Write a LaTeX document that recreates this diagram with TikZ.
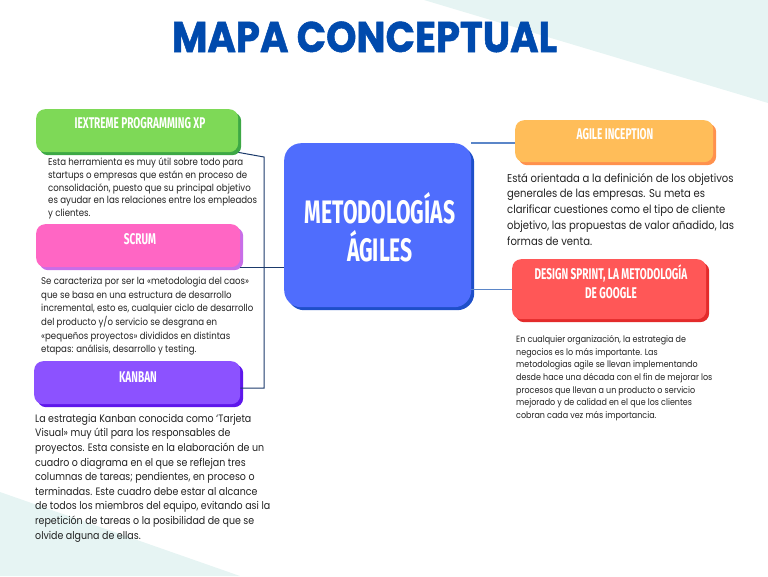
\documentclass[tikz,border=0pt]{standalone}
\usepackage{fontspec}
\setmainfont{Poppins}
\newfontfamily\bodyfont[FakeStretch=0.88]{Poppins}
\newfontfamily\headfont[FakeStretch=0.65]{Fira Sans}
\newfontfamily\titlefont[FakeStretch=0.9,FakeBold=1.2]{Poppins}
\definecolor{bgtint}{HTML}{E6F4F3}
\definecolor{titleblue}{HTML}{004AAD}
\definecolor{greenA}{HTML}{7ED957}\definecolor{greenB}{HTML}{3DA845}
\definecolor{pinkA}{HTML}{FF66C4}\definecolor{pinkB}{HTML}{C86EE8}
\definecolor{purpA}{HTML}{8C52FF}\definecolor{purpB}{HTML}{5E17EB}
\definecolor{orA}{HTML}{FFBD59}\definecolor{orB}{HTML}{FF914D}
\definecolor{redA}{HTML}{FF5757}\definecolor{redB}{HTML}{E32B2B}
\definecolor{blueA}{HTML}{4F6DFD}\definecolor{blueB}{HTML}{1E4FC9}
\definecolor{navy}{HTML}{1B3A6B}
\definecolor{lblue}{HTML}{5B86C8}
\definecolor{bodytext}{HTML}{222222}
\tikzset{
  hbox/.style 2 args={draw=none, fill=#1, rounded corners=9pt, inner sep=0pt,
    anchor=north west,
    preaction={fill=#2, transform canvas={xshift=3pt,yshift=-3pt}}},
  htext/.style={font=\headfont\bfseries\fontsize{15.5}{19}\selectfont, text=white, inner sep=0pt, align=center},
  btext/.style={text=bodytext, inner sep=0pt, anchor=north west, align=left},
  lconn/.style={draw=navy, line width=1pt},
  rconn/.style={draw=lblue, line width=1.2pt}
}
\begin{document}
\begin{tikzpicture}[x=1pt,y=-1pt]
\useasboundingbox (0,0) rectangle (768,576);
\fill[bgtint] (424,0) -- (768,0) -- (768,103) -- cycle;
\fill[bgtint] (0,492) -- (240,576) -- (0,576) -- cycle;

\node[font=\titlefont\bfseries, text=titleblue, anchor=base, inner sep=0pt] (title) at (364.5,52) {\resizebox{385pt}{!}{MAPA CONCEPTUAL}};

% boxes
\node[hbox={greenA}{greenB}, minimum width=202pt, minimum height=43pt] (xp) at (36,109) {};
\node[hbox={pinkA}{pinkB}, minimum width=204pt, minimum height=43pt] (scr) at (36,224) {};
\node[hbox={purpA}{purpB}, minimum width=206pt, minimum height=43pt] (kb) at (34,361) {};
\node[hbox={orA}{orB}, minimum width=198pt, minimum height=42pt] (ag) at (515,120) {};
\node[hbox={redA}{redB}, minimum width=194pt, minimum height=60pt] (ds) at (512,259) {};
\node[hbox={blueA}{blueB}, rounded corners=17pt, minimum width=187pt, minimum height=164pt] (ctr) at (284,143) {};

% header texts
\node[htext] (xpt) at (140,123) {IEXTREME PROGRAMMING XP};
\node[htext] (scrt) at (140,239) {SCRUM};
\node[htext] (kbt) at (138,377) {KANBAN};
\node[htext] (agt) at (615,134) {AGILE INCEPTION};
\node[htext] (dst) at (611,282) {DESIGN SPRINT, LA METODOLOGÍA\\DE GOOGLE};
\node[htext, font=\headfont\bfseries\fontsize{32.5}{38}\selectfont] (ctrt) at (380,227) {METODOLOGÍAS\\ÁGILES};

% body texts
\node[btext, font=\bodyfont\fontsize{9.8}{12.7}\selectfont] (xpb) at (48,158) {Esta herramienta es muy útil sobre todo para\\startups o empresas que están en proceso de\\consolidación, puesto que su principal objetivo\\es ayudar en las relaciones entre los empleados\\y clientes.};
\node[btext, font=\bodyfont\fontsize{9.75}{13.6}\selectfont] (scrb) at (41,277) {Se caracteriza por ser la «metodologia del caos»\\que se basa en una estructura de desarrollo\\incremental, esto es, cualquier ciclo de desarrollo\\del producto y/o servicio se desgrana en\\«pequeños proyectos» divididos en distintas\\etapas: análisis, desarrollo y testing.};
\node[btext, font=\bodyfont\fontsize{10.75}{14.6}\selectfont] (kbb) at (35,414) {La estrategia Kanban conocida como ‘Tarjeta\\Visual» muy útil para los responsables de\\proyectos. Esta consiste en la elaboración de un\\cuadro o diagrama en el que se reflejan tres\\columnas de tareas; pendientes, en proceso o\\terminadas. Este cuadro debe estar al alcance\\de todos los miembros del equipo, evitando asi la\\repetición de tareas o la posibilidad de que se\\olvide alguna de ellas.};
\node[btext, font=\bodyfont\fontsize{11.4}{15.8}\selectfont] (agb) at (507,173) {Está orientada a la definición de los objetivos\\generales de las empresas. Su meta es\\clarificar cuestiones como el tipo de cliente\\objetivo, las propuestas de valor añadido, las\\formas de venta.};
\node[btext, font=\bodyfont\fontsize{9.07}{12.7}\selectfont] (dsb) at (516,335) {En cualquier organización, la estrategia de\\negocios es lo más importante. Las\\metodologias agile se llevan implementando\\desde hace una década con el fin de mejorar los\\procesos que llevan a un producto o servicio\\mejorado y de calidad en el que los clientes\\cobran cada vez más importancia.};

% connectors
\coordinate (J1) at (264,157);
\coordinate (J3) at (264,388);
\draw[lconn] (xp.south east) -- (J1) -- (J3) -- (kb.east |- J3);
\draw[lconn] (scr.south east) -- (ctr.west |- scr.south east);
\draw[rconn] (ctr.north east) -- (ag.west |- ctr.north east);
\draw[rconn] (ctr.east |- ds.west) -- (ds.west);
\end{tikzpicture}
\end{document}
